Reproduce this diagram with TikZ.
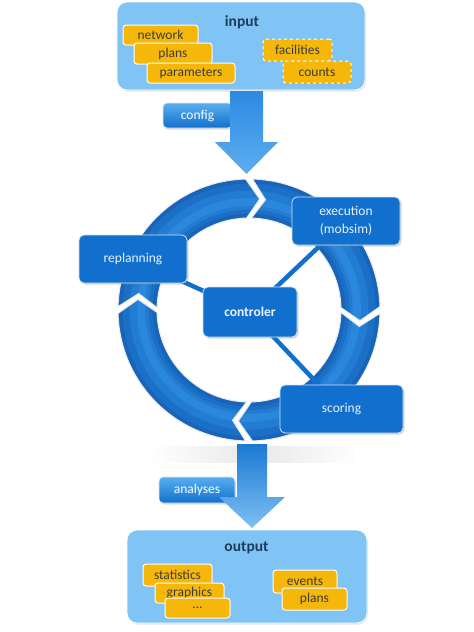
\documentclass[tikz,border=0pt]{standalone}
\usepackage{fontspec}
\setmainfont{Carlito}
\usetikzlibrary{shadows}
\definecolor{lightbox}{HTML}{80C4F6}
\definecolor{ybox}{HTML}{F5B80A}
\definecolor{bbox}{HTML}{1170CD}
\definecolor{navy}{HTML}{1F3B5C}
\definecolor{ytext}{HTML}{3C3C3C}
\definecolor{ring1}{HTML}{1764BA}
\definecolor{ring2}{HTML}{1B70C6}
\definecolor{ring3}{HTML}{227CD2}
\definecolor{ring4}{HTML}{2A87DC}
\definecolor{btext}{HTML}{EAF2FB}
\definecolor{arrtop}{HTML}{2C8AE2}
\definecolor{arrbot}{HTML}{5DAEF0}
\definecolor{arr2top}{HTML}{1B78D2}
\definecolor{arr2bot}{HTML}{7EC0F5}
\definecolor{gbtop}{HTML}{5AAEF0}
\pgfdeclarelayer{ringlayer}
\pgfdeclarelayer{linelayer}
\pgfsetlayers{ringlayer,linelayer,main}
\begin{document}
\begin{tikzpicture}[x=1pt,y=-1pt,
  panel/.style={fill=lightbox, draw=white, line width=0.8pt, rounded corners=10pt,
    drop shadow={opacity=0.2,shadow xshift=1pt,shadow yshift=-1.5pt}},
  ylab/.style={fill=ybox, draw=white, line width=1pt, rounded corners=3pt, text=ytext,
    font=\fontsize{13.5}{16}\selectfont, inner sep=0pt,
    drop shadow={opacity=0.2,shadow xshift=0.8pt,shadow yshift=-1pt}},
  ydash/.style={ylab, dashed},
  bluebox/.style={fill=bbox, draw=white!80!bbox, line width=0.8pt, rounded corners=5pt,
    text=btext, font=\fontsize{13.5}{18}\selectfont, inner sep=0pt, align=center,
    drop shadow={opacity=0.3,shadow xshift=1.5pt,shadow yshift=-1.5pt}},
  gradbox/.style={top color=gbtop, bottom color=bbox, draw=white!85!bbox,
    line width=0.8pt, rounded corners=4pt, text=white,
    font=\fontsize{13.5}{16}\selectfont, inner sep=0pt,
    drop shadow={opacity=0.25,shadow xshift=1pt,shadow yshift=-1.5pt}},
  titletxt/.style={text=navy, font=\bfseries\fontsize{15.5}{18}\selectfont, inner sep=0pt},
  conn/.style={line width=4.5pt, draw=bbox}
]
\useasboundingbox (0,0) rectangle (474,632);
\begin{pgfonlayer}{ringlayer}
\fill[white] (0,0) rectangle (474,632);
\end{pgfonlayer}

% ---------- input ----------
\node[panel, minimum width=248pt, minimum height=88pt] (inputbox) at (241,46) {};
\node[titletxt] (inputlabel) at (242,22) {input};
\node[ylab, minimum width=75pt, minimum height=20pt] (network) at (160.5,35) {network};
\node[ylab, minimum width=78pt, minimum height=21pt] (plansin) at (173,53.5) {plans};
\node[ylab, minimum width=88pt, minimum height=20pt] (parameters) at (191,73) {parameters};
\node[ydash, minimum width=69pt, minimum height=22pt] (facilities) at (297.5,50) {facilities};
\node[ydash, minimum width=68pt, minimum height=22pt] (counts) at (317,72) {counts};

% ---------- config + top arrow ----------
\node[gradbox, minimum width=69pt, minimum height=25pt] (config) at (197.5,115.5) {config};
\shade[top color=arrtop, bottom color=arrbot]
  (230,91) -- (263,91) -- (263,142) -- (278,142) -- (246.5,174) -- (215,142) -- (230,142) -- cycle;

% ---------- ring ----------
\begin{pgfonlayer}{ringlayer}
\shade[left color=white, right color=white, middle color=gray!18] (150,446) rectangle (360,462);
\begin{scope}[shift={(249,310)}]
  \begin{scope}
    \clip \foreach \c in {270,360,450,540} {
      (\c-88.5:131) arc[start angle=\c-88.5, end angle=\c-1.5, radius=131]
      -- (\c+5.5:111.5) -- (\c-1.5:92)
      arc[start angle=\c-1.5, end angle=\c-88.5, radius=92]
      -- (\c-81.5:111.5) -- cycle };
    \draw[ring1, line width=40pt] (0,0) circle[radius=111.5];
    \draw[ring2, line width=30pt] (0,0) circle[radius=111.5];
    \draw[ring3, line width=19pt] (0,0) circle[radius=110];
    \draw[ring4, line width=8pt] (0,0) circle[radius=108];
  \end{scope}
  \draw[white!85!gray, line width=1pt] \foreach \c in {270,360,450,540} {
      (\c-88.5:131) arc[start angle=\c-88.5, end angle=\c-1.5, radius=131]
      -- (\c+5.5:111.5) -- (\c-1.5:92)
      arc[start angle=\c-1.5, end angle=\c-88.5, radius=92]
      -- (\c-81.5:111.5) -- cycle };
\end{scope}
\end{pgfonlayer}

% ---------- blue boxes ----------
\node[bluebox, minimum width=108pt, minimum height=48pt] (execution) at (346,221) {execution\\(mobsim)};
\node[bluebox, minimum width=108pt, minimum height=48pt] (replanning) at (133,259) {replanning};
\node[bluebox, minimum width=94pt, minimum height=50pt, font=\bfseries\fontsize{13.5}{16}\selectfont] (controler) at (250,312) {controler};
\node[bluebox, minimum width=123pt, minimum height=48pt] (scoring) at (341.5,409) {scoring};
\begin{pgfonlayer}{linelayer}
\draw[conn] (controler.center) -- (execution.center);
\draw[conn] (controler.center) -- (replanning.center);
\draw[conn] (controler.center) -- (scoring.center);
\end{pgfonlayer}

% ---------- analyses + bottom arrow ----------
\node[gradbox, minimum width=76pt, minimum height=26pt] (analyses) at (197,490) {analyses};
\shade[top color=arr2top, bottom color=arr2bot]
  (237,444) -- (267,444) -- (267,497) -- (285,497) -- (252,528) -- (219,497) -- (237,497) -- cycle;

% ---------- output ----------
\node[panel, minimum width=240pt, minimum height=93pt] (outputbox) at (247,576.5) {};
\node[titletxt] (outputlabel) at (246.5,548) {output};
\node[ylab, minimum width=69pt, minimum height=22pt] (statistics) at (177.5,575) {statistics};
\node[ylab, minimum width=69pt, minimum height=20pt] (graphics) at (189.5,593) {graphics};
\node[ylab, minimum width=65pt, minimum height=20pt] (dots) at (197.5,608) {...};
\node[ylab, minimum width=64pt, minimum height=23pt] (events) at (305,581.5) {events};
\node[ylab, minimum width=65pt, minimum height=22pt] (plansout) at (314.5,599) {plans};
\end{tikzpicture}
\end{document}
